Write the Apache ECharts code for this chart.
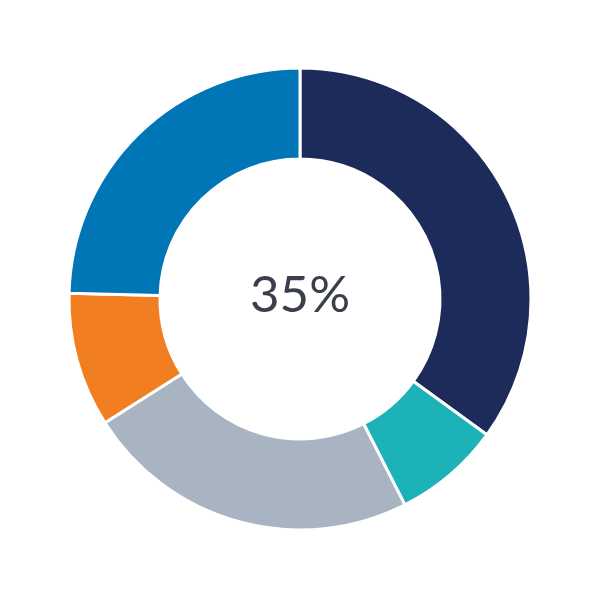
<!DOCTYPE html>
<html>
<head>
<meta charset="utf-8">
<script src="https://cdn.jsdelivr.net/npm/echarts@6/dist/echarts.min.js"></script>
<style>html,body{margin:0;padding:0;background:#fff}#c{width:600px;height:599px}</style>
</head>
<body>
<div id="c"></div>
<script>
const categories = ['A', 'B', 'C', 'D', 'E'];
const values = [35, 7.5, 23.5, 9.4, 24.6];
const colors = ['#1c2b5a', '#1bb3b7', '#a9b4c3', '#f17f21', '#0076b6'];
const centerLabel = '35%';

const chart = echarts.init(document.getElementById('c'));
chart.setOption({
  animation: false,
  series: [{
    type: 'pie',
    center: [300, 299],
    radius: [140, 231],
    startAngle: 90,
    clockwise: true,
    label: { show: false },
    labelLine: { show: false },
    itemStyle: { borderColor: '#fff', borderWidth: 3 },
    data: categories.map((c, i) => ({ name: c, value: values[i], itemStyle: { color: colors[i] } }))
  }],
  graphic: [{
    type: 'text',
    x: 300,
    y: 296,
    style: {
      text: centerLabel,
      fontFamily: 'Lato',
      fontSize: 51,
      fontWeight: 400,
      fill: '#3a3f4b',
      align: 'center',
      verticalAlign: 'middle'
    }
  }]
});
</script>
</body>
</html>
